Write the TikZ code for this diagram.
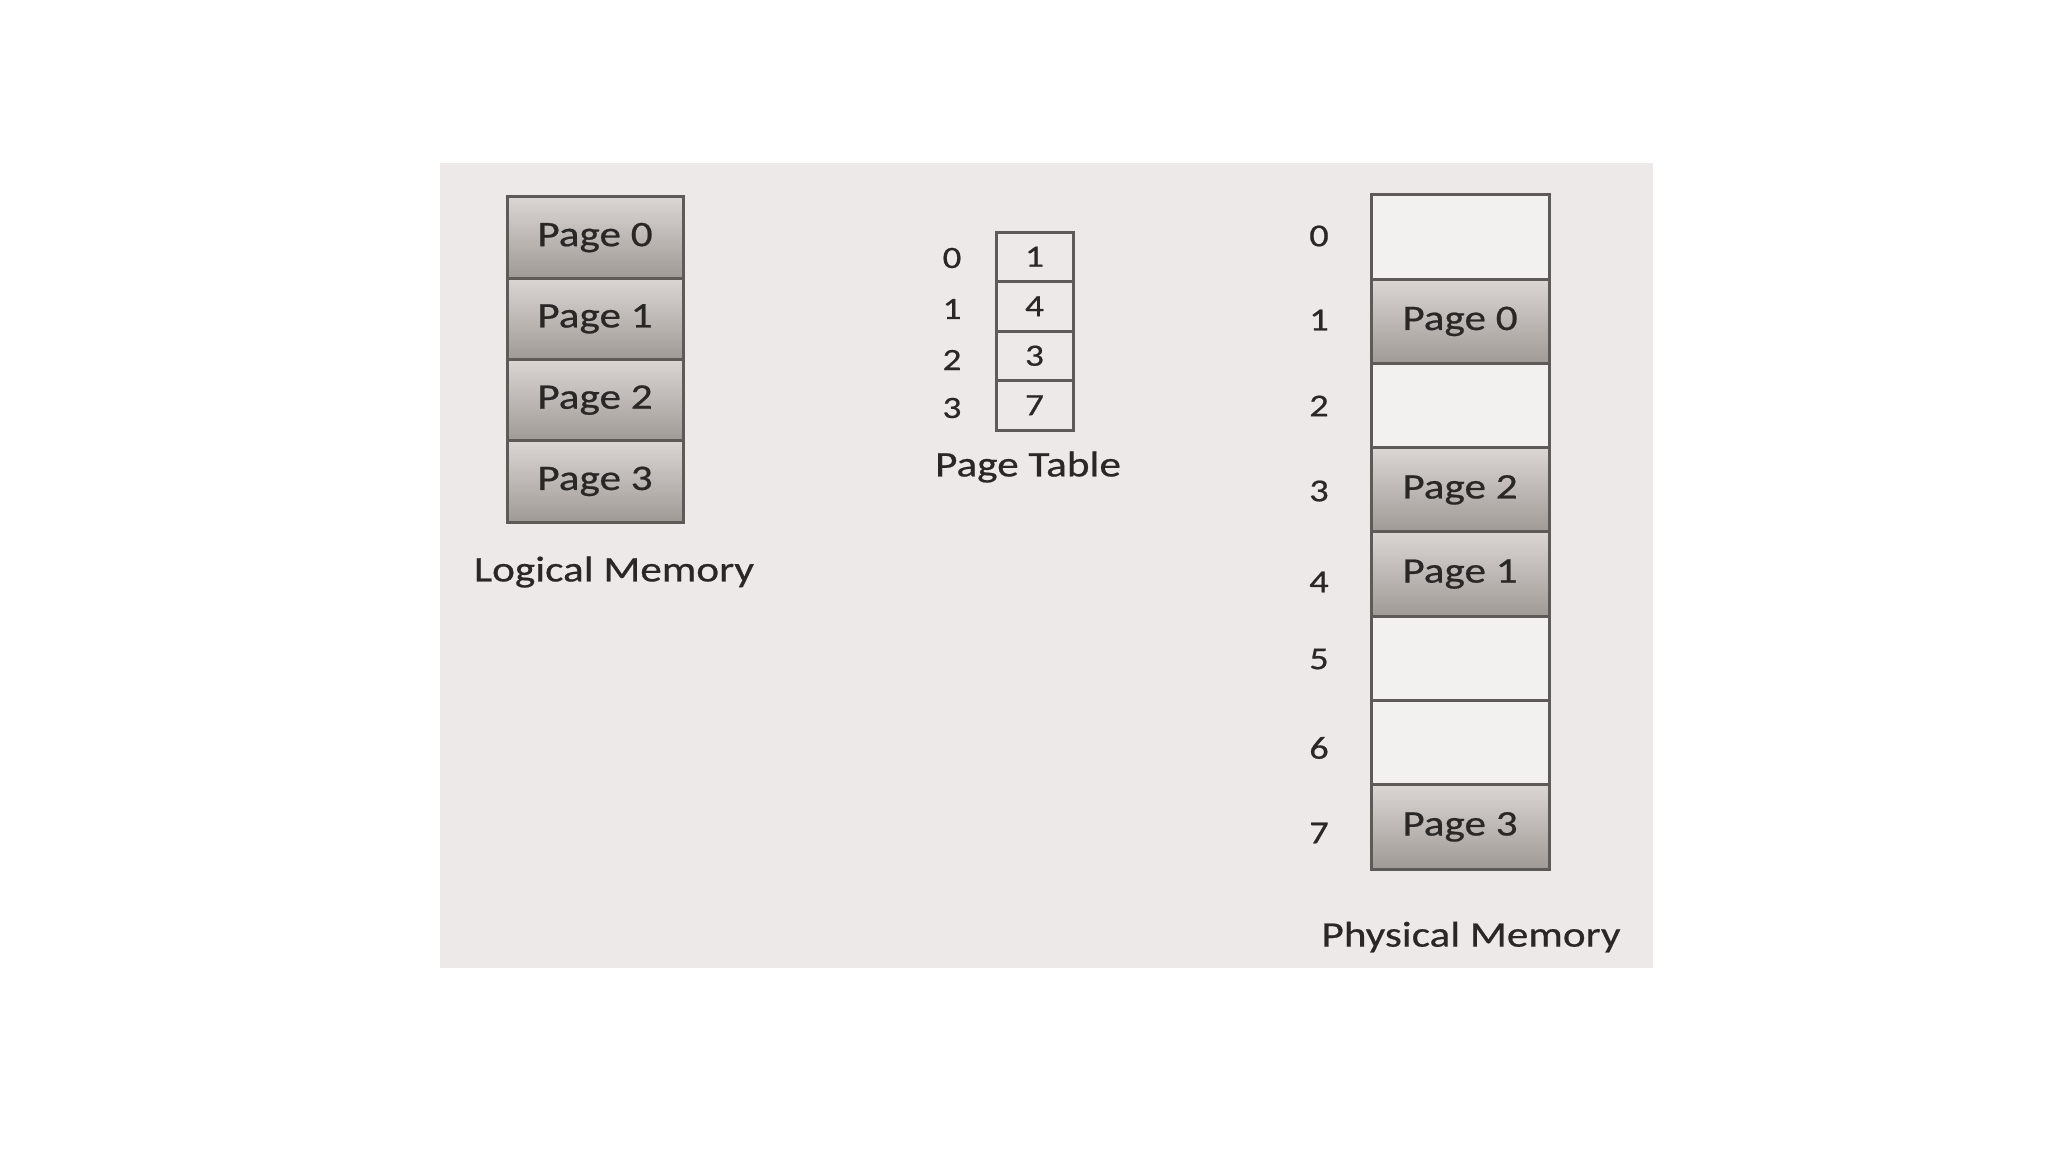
\documentclass[tikz,border=0pt]{standalone}
\usepackage{fontspec}
\setmainfont{Carlito}[FakeStretch=1.2,FakeBold=0.6]
\definecolor{bgc}{HTML}{EDE9E8}
\definecolor{txt}{HTML}{2A2827}
\definecolor{edge}{HTML}{5E5A58}
\definecolor{ptop}{HTML}{DBD6D3}
\definecolor{pbot}{HTML}{A09A97}
\definecolor{emptyc}{HTML}{F3F1F0}
\tikzset{
  pagebox/.style={draw=edge, line width=3pt, top color=ptop, bottom color=pbot,
    minimum width=176pt, minimum height=81.25pt, inner sep=0pt, outer sep=0pt,
    text=txt, font=\fontsize{36}{40}\selectfont},
  physpage/.style={pagebox, minimum width=178pt, minimum height=84.25pt},
  physempty/.style={draw=edge, line width=3pt, fill=emptyc,
    minimum width=178pt, minimum height=84.25pt, inner sep=0pt, outer sep=0pt},
  ptbox/.style={draw=edge, line width=3pt, fill=bgc,
    minimum width=77pt, minimum height=49.5pt, inner sep=0pt, outer sep=0pt,
    text=txt, font=\fontsize{31}{34}\selectfont},
  ptidx/.style={text=txt, font=\fontsize{31}{34}\selectfont, inner sep=0pt},
  physidx/.style={text=txt, font=\fontsize{32}{36}\selectfont, inner sep=0pt},
  caption/.style={text=txt, font=\fontsize{36}{40}\selectfont, inner sep=0pt}
}
\begin{document}
\begin{tikzpicture}[x=1pt,y=-1pt]
\useasboundingbox (0,0) rectangle (2048,1152);
\fill[white] (0,0) rectangle (2048,1152);
\fill[bgc] (440,163) rectangle (1653,968);

% Logical memory
\node[pagebox] (l0) at (595,237.6) {Page 0};
\node[pagebox] (l1) at (595,318.9) {Page 1};
\node[pagebox] (l2) at (595,400.1) {Page 2};
\node[pagebox] (l3) at (595,481.4) {Page 3};
\node[caption] (lcap) at (614,572) {Logical Memory};

% Page table
\node[ptbox] (t0) at (1034.5,256.75) {1};
\node[ptbox] (t1) at (1034.5,306.25) {4};
\node[ptbox] (t2) at (1034.5,355.75) {3};
\node[ptbox] (t3) at (1034.5,405.25) {7};
\node[ptidx] (ti0) at (952,258) {0};
\node[ptidx] (ti1) at (952,309) {1};
\node[ptidx] (ti2) at (952,360) {2};
\node[ptidx] (ti3) at (952,408) {3};
\node[caption] (tcap) at (1028,467) {Page Table};

% Physical memory
\node[physempty] (p0) at (1460,237.1) {};
\node[physpage] (p1) at (1460,321.4) {Page 0};
\node[physempty] (p2) at (1460,405.6) {};
\node[physpage] (p3) at (1460,489.9) {Page 2};
\node[physpage] (p4) at (1460,574.1) {Page 1};
\node[physempty] (p5) at (1460,658.4) {};
\node[physempty] (p6) at (1460,742.6) {};
\node[physpage] (p7) at (1460,826.9) {Page 3};
\node[physidx] (pi0) at (1319,236) {0};
\node[physidx] (pi1) at (1319,320) {1};
\node[physidx] (pi2) at (1319,406) {2};
\node[physidx] (pi3) at (1319,491) {3};
\node[physidx] (pi4) at (1319,582) {4};
\node[physidx] (pi5) at (1319,659) {5};
\node[physidx] (pi6) at (1319,748) {6};
\node[physidx] (pi7) at (1319,833) {7};
\node[caption] (pcap) at (1471,937) {Physical Memory};
\end{tikzpicture}
\end{document}
